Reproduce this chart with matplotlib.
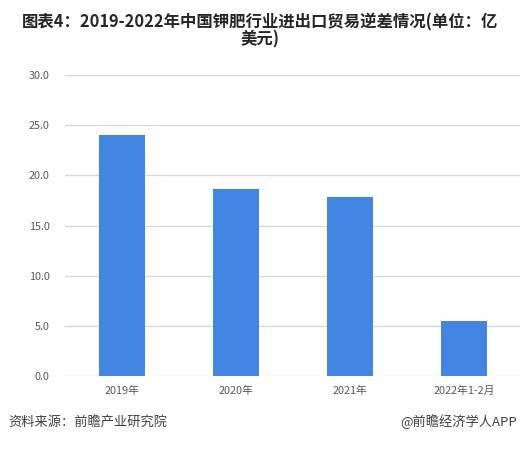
import matplotlib.pyplot as plt

plt.rcParams['font.family'] = ['Noto Sans CJK SC', 'DejaVu Sans']

## data
categories = ['2019年', '2020年', '2021年', '2022年1-2月']
deficit = [24.0, 18.6, 17.8, 5.5]
y_ticks = [0, 5, 10, 15, 20, 25, 30]

fig = plt.figure(figsize=(5.2, 4.51), dpi=100)
ax = fig.add_axes([65 / 520, 1 - 376 / 451, 456 / 520, 301 / 451])

ax.bar(range(len(categories)), deficit, width=0.4, color='#4285E2', zorder=3)

ax.set_xlim(-0.5, len(categories) - 0.5)
ax.set_ylim(0, 30)
ax.set_yticks(y_ticks)
ax.set_yticklabels([f'{t:.1f}' for t in y_ticks])
ax.set_xticks(range(len(categories)))
ax.set_xticklabels(categories)
ax.tick_params(axis='both', length=0, labelsize=7.8, colors='#595959')
ax.tick_params(axis='y', pad=11)
ax.tick_params(axis='x', pad=7)
ax.grid(axis='y', color='#d9d9d9', linewidth=1, zorder=0)
for s in ax.spines.values():
    s.set_visible(False)

## title and footer
fig.text(0.5, 1 - 31 / 451, '图表4：2019-2022年中国钾肥行业进出口贸易逆差情况(单位：亿\n美元)',
         ha='center', va='center', fontsize=11.8, fontweight='bold', color='#262626',
         linespacing=0.95)
fig.text(8 / 520, 1 - 422 / 451, '资料来源：前瞻产业研究院', ha='left', va='center',
         fontsize=9.5, color='#404040')
fig.text(517 / 520, 1 - 422 / 451, '@前瞻经济学人APP', ha='right', va='center',
         fontsize=9.5, color='#404040')

fig.savefig('out.png', dpi=100)
